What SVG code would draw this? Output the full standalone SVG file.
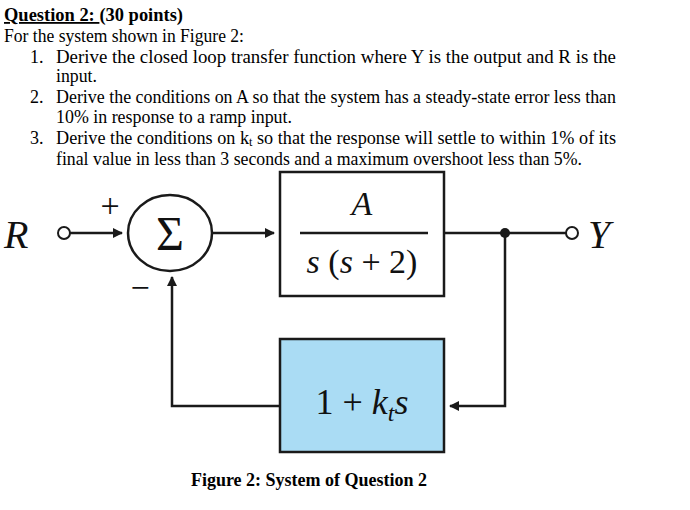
<svg xmlns="http://www.w3.org/2000/svg" width="690" height="510" viewBox="0 0 690 510">
<style>
.t{font-family:"Liberation Serif",serif;font-size:18px;fill:#000}
.m{font-family:"Liberation Serif",serif;fill:#111}
.ln{stroke:#1a1a1a;stroke-width:2.5;fill:none}
</style>
<defs><marker id="a" markerWidth="10" markerHeight="10" refX="9" refY="5" orient="auto" markerUnits="userSpaceOnUse" viewBox="0 0 10 10"><path d="M0,0L10,5L0,10z" fill="#1a1a1a"/></marker></defs>
<rect width="690" height="510" fill="#fff"/>
<g id="text">
<text class="t" x="4" y="21" font-weight="bold" textLength="179" lengthAdjust="spacingAndGlyphs"><tspan text-decoration="underline">Question 2:   </tspan>(30 points)</text>
<text class="t" x="4" y="42" textLength="240" lengthAdjust="spacingAndGlyphs">For the system shown in Figure 2:</text>
<text class="t" x="30" y="63">1.</text><text class="t" x="56" y="63" textLength="560" lengthAdjust="spacingAndGlyphs">Derive the closed loop transfer function where Y is the output and R is the</text>
<text class="t" x="56" y="82" textLength="41" lengthAdjust="spacingAndGlyphs">input.</text>
<text class="t" x="30" y="103">2.</text><text class="t" x="56" y="103" textLength="560" lengthAdjust="spacingAndGlyphs">Derive the conditions on A so that the system has a steady-state error less than</text>
<text class="t" x="56" y="123" textLength="236" lengthAdjust="spacingAndGlyphs">10% in response to a ramp input.</text>
<text class="t" x="30" y="144">3.</text><text class="t" x="56" y="144" textLength="560" lengthAdjust="spacingAndGlyphs">Derive the conditions on k<tspan font-size="12" dy="2">t</tspan><tspan dy="-2"> so that the response will settle to within 1% of its</tspan></text>
<text class="t" x="56" y="165" textLength="526" lengthAdjust="spacingAndGlyphs">final value in less than 3 seconds and a maximum overshoot less than 5%.</text>
</g>
<g id="connectors">
<path class="ln" d="M70,233H122" marker-end="url(#a)"/>
<path class="ln" d="M212,233H274" marker-end="url(#a)"/>
<path class="ln" d="M444,233H566"/>
<path class="ln" d="M505,233V406H450" marker-end="url(#a)"/>
<path class="ln" d="M279,406H172V277" marker-end="url(#a)"/>
<circle cx="505" cy="233" r="5" fill="#1a1a1a"/>
</g>
<g id="R"><circle cx="64" cy="233" r="6" fill="#fff" stroke="#1a1a1a" stroke-width="2"/>
<text class="m" x="4" y="248" font-size="40" font-style="italic">R</text></g>
<g id="Y"><circle cx="572" cy="233" r="6" fill="#fff" stroke="#1a1a1a" stroke-width="2"/>
<text class="m" x="588" y="248" font-size="40" font-style="italic">Y</text></g>
<g id="sum"><ellipse cx="170" cy="233" rx="42" ry="38" fill="#fff" stroke="#1a1a1a" stroke-width="2.5"/>
<text class="m" x="170" y="250" font-size="48" text-anchor="middle">Σ</text>
<text class="m" x="110" y="217" font-size="34" text-anchor="middle">+</text>
<text class="m" x="140" y="299" font-size="34" text-anchor="middle">−</text></g>
<g id="plant"><rect x="280" y="172" width="164" height="124" fill="#fff" stroke="#1a1a1a" stroke-width="2.5"/>
<text class="m" x="362" y="215" font-size="34" font-style="italic" text-anchor="middle">A</text>
<line x1="300" y1="233" x2="428" y2="233" stroke="#1a1a1a" stroke-width="2.5"/>
<text class="m" x="362" y="273" font-size="34" text-anchor="middle"><tspan font-style="italic">s</tspan> (<tspan font-style="italic">s</tspan> + 2)</text></g>
<g id="feedback"><rect x="280" y="339" width="164" height="113" fill="#aadcf4" stroke="#1a1a1a" stroke-width="2.5"/>
<text class="m" x="362" y="414" font-size="36" text-anchor="middle">1 + <tspan font-style="italic">k</tspan><tspan font-style="italic" font-size="24" dy="7">t</tspan><tspan font-style="italic" dy="-7">s</tspan></text></g>
<text class="t" x="309" y="486" font-size="13" font-weight="bold" text-anchor="middle">Figure 2: System of Question 2</text>
</svg>
